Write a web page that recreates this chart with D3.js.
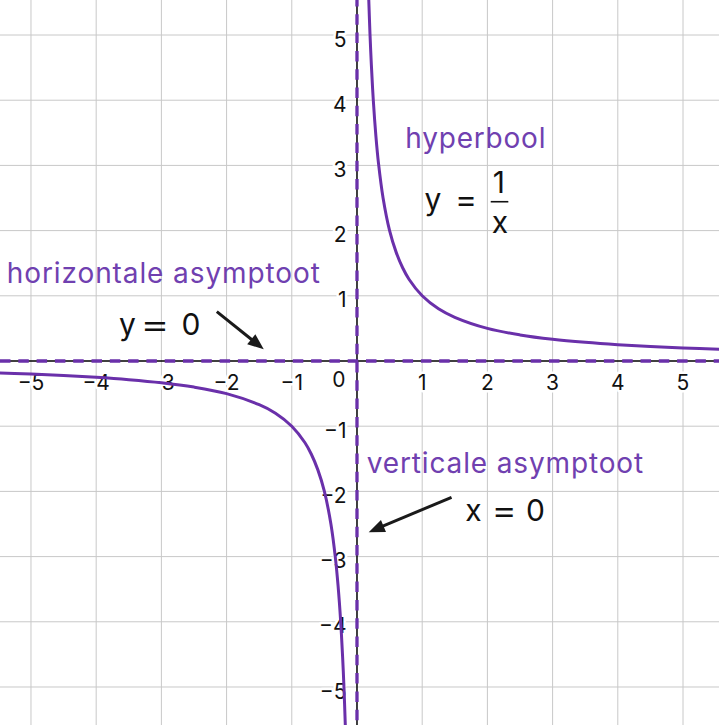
<!DOCTYPE html>
<html>
<head>
<meta charset="utf-8">
<script src="https://cdn.jsdelivr.net/npm/d3@7"></script>
<style>
  html, body { margin: 0; padding: 0; background: #fff; }
  svg { display: block; }
</style>
</head>
<body>
<svg id="chart" width="719" height="725"></svg>
<script>
// ---- data ----
const xTicks = [-5, -4, -3, -2, -1, 1, 2, 3, 4, 5];
const yTicks = [-5, -4, -3, -2, -1, 1, 2, 3, 4, 5];
const xTickLabels = ["−5", "−4", "−3", "−2", "−1", "1", "2", "3", "4", "5"];
const yTickLabels = ["−5", "−4", "−3", "−2", "−1", "1", "2", "3", "4", "5"];

// right branch of the hyperbola
const posX = [0.18, 0.2, 0.22, 0.25, 0.29, 0.33, 0.4, 0.5, 0.6, 0.7, 0.8, 1, 1.25, 1.5, 2, 2.5, 3, 3.5, 4, 4.5, 5, 5.6];
const posY = [5.56, 5.0, 4.55, 4.0, 3.45, 3.03, 2.5, 2.0, 1.67, 1.43, 1.25, 1.0, 0.8, 0.67, 0.5, 0.4, 0.333, 0.286, 0.25, 0.222, 0.2, 0.179];
// left branch
const negX = [-5.6, -5, -4.5, -4, -3.5, -3, -2.5, -2, -1.5, -1.25, -1, -0.8, -0.7, -0.6, -0.5, -0.4, -0.33, -0.29, -0.25, -0.22, -0.2, -0.178];
const negY = [-0.179, -0.2, -0.222, -0.25, -0.286, -0.333, -0.4, -0.5, -0.67, -0.8, -1.0, -1.25, -1.43, -1.67, -2.0, -2.5, -3.03, -3.45, -4.0, -4.55, -5.0, -5.62];

// annotations (data coordinates)
const labelTexts = ["horizontale asymptoot", "hyperbool", "verticale asymptoot"];
const labelX = [-5.37, 0.74, 0.149];
const labelY = [1.196, 3.262, -1.72];
const labelW = [4.8, 2.15, 4.24];
const arrowFrom = [[-2.15, 0.758], [1.45, -2.09]];
const arrowTo = [[-1.43, 0.18], [0.18, -2.625]];

// ---- drawing ----
const W = 719, H = 725;
const purple = "#6a30aa";
const textPurple = "#7040b0";
const svg = d3.select("#chart");
const x = d3.scaleLinear().domain([-5.475, 5.552]).range([0, W]);
const y = d3.scaleLinear().domain([5.537, -5.583]).range([0, H]);
const u = x(1) - x(0);

// grid
const grid = svg.append("g").attr("stroke", "#c8c8c8").attr("stroke-width", 1);
grid.selectAll("line.v").data(xTicks).join("line")
  .attr("x1", d => x(d)).attr("x2", d => x(d)).attr("y1", 0).attr("y2", H);
grid.selectAll("line.h").data(yTicks).join("line")
  .attr("y1", d => y(d)).attr("y2", d => y(d)).attr("x1", 0).attr("x2", W);

// axes (black thin lines)
svg.append("line").attr("x1", 0).attr("x2", W).attr("y1", y(0)).attr("y2", y(0))
  .attr("stroke", "#000").attr("stroke-width", 1.5);
svg.append("line").attr("x1", x(0)).attr("x2", x(0)).attr("y1", 0).attr("y2", H)
  .attr("stroke", "#000").attr("stroke-width", 1.5);

// tick labels
const tickFont = "Inter, Roboto, sans-serif";
const tl = svg.append("g").attr("font-family", tickFont).attr("font-size", 21).attr("fill", "#111")
  .attr("stroke", "#fff").attr("stroke-width", 5).attr("paint-order", "stroke").attr("stroke-linejoin", "round");
tl.selectAll("text.x").data(xTicks).join("text")
  .attr("x", d => x(d)).attr("y", y(0) + 29).attr("text-anchor", "middle")
  .text((d, i) => xTickLabels[i]);
tl.selectAll("text.y").data(yTicks).join("text")
  .attr("x", x(0) - 10.5).attr("y", d => y(d) + 11.6).attr("text-anchor", "end")
  .text((d, i) => yTickLabels[i]);
tl.append("text").attr("x", x(0) - 11.5).attr("y", y(0) + 26).attr("text-anchor", "end").text("0");

// hyperbola
const line = d3.line().x(d => x(d[0])).y(d => y(d[1])).curve(d3.curveCatmullRom.alpha(0.5));
const gc = svg.append("g").attr("fill", "none").attr("stroke", purple).attr("stroke-width", 3);
gc.append("path").attr("d", line(posX.map((v, i) => [v, posY[i]])));
gc.append("path").attr("d", line(negX.map((v, i) => [v, negY[i]])));

// asymptotes (dashed)
const ga = svg.append("g").attr("stroke", purple).attr("stroke-width", 3.3).attr("stroke-dasharray", "10.5,7.8");
ga.append("line").attr("x1", 0).attr("x2", W).attr("y1", y(0)).attr("y2", y(0)).attr("stroke-dashoffset", 0);
ga.append("line").attr("x1", x(0)).attr("x2", x(0)).attr("y1", 0).attr("y2", H).attr("stroke-dashoffset", 4);

// purple labels
svg.append("g").attr("font-family", tickFont).attr("font-size", 28).attr("fill", textPurple)
  .selectAll("text").data(labelTexts).join("text")
  .attr("x", (d, i) => x(labelX[i])).attr("y", (d, i) => y(labelY[i]))
  .attr("textLength", (d, i) => labelW[i] * u).attr("lengthAdjust", "spacing")
  .text(d => d);

// equations
const eq = svg.append("g").attr("fill", "#111").attr("font-family", tickFont).attr("font-size", 30);
function eqPart(txt, cx, by) {
  return eq.append("text").attr("x", x(cx)).attr("y", y(by)).attr("text-anchor", "middle").text(txt);
}
function eqEquals(cx, by, w) {
  return eq.append("text").attr("x", x(cx) - w * u / 2).attr("y", y(by))
    .attr("textLength", w * u).attr("lengthAdjust", "spacingAndGlyphs").text("=");
}
// y = 0
eqPart("y", -3.52, 0.399);
eqEquals(-3.098, 0.399, 0.46);
eqPart("0", -2.546, 0.399);
// x = 0
eqPart("x", 1.787, -2.454);
eqEquals(2.258, -2.454, 0.39);
eqPart("0", 2.738, -2.454);
// y = 1/x
eqPart("y", 1.166, 2.316);
eqEquals(1.672, 2.316, 0.34);
eqPart("1", 2.175, 2.572);
eqPart("x", 2.193, 1.959);
eq.append("line").attr("x1", x(2.051)).attr("x2", x(2.321)).attr("y1", y(2.443)).attr("y2", y(2.443))
  .attr("stroke", "#111").attr("stroke-width", 1.6);

// arrows
const ar = svg.append("g");
arrowFrom.forEach((f, i) => {
  const t = arrowTo[i];
  const x1 = x(f[0]), y1 = y(f[1]), x2 = x(t[0]), y2 = y(t[1]);
  const ang = Math.atan2(y2 - y1, x2 - x1);
  const L = 16, Wd = 6.5;
  const bx = x2 - L * Math.cos(ang), by = y2 - L * Math.sin(ang);
  ar.append("line").attr("x1", x1).attr("y1", y1).attr("x2", bx + 2 * Math.cos(ang)).attr("y2", by + 2 * Math.sin(ang))
    .attr("stroke", "#1a1a1a").attr("stroke-width", 3);
  const p = [[x2, y2],
    [bx + Wd * Math.sin(ang), by - Wd * Math.cos(ang)],
    [bx - Wd * Math.sin(ang), by + Wd * Math.cos(ang)]];
  ar.append("polygon").attr("points", p.map(q => q.join(",")).join(" ")).attr("fill", "#1a1a1a");
});
</script>
</body>
</html>
